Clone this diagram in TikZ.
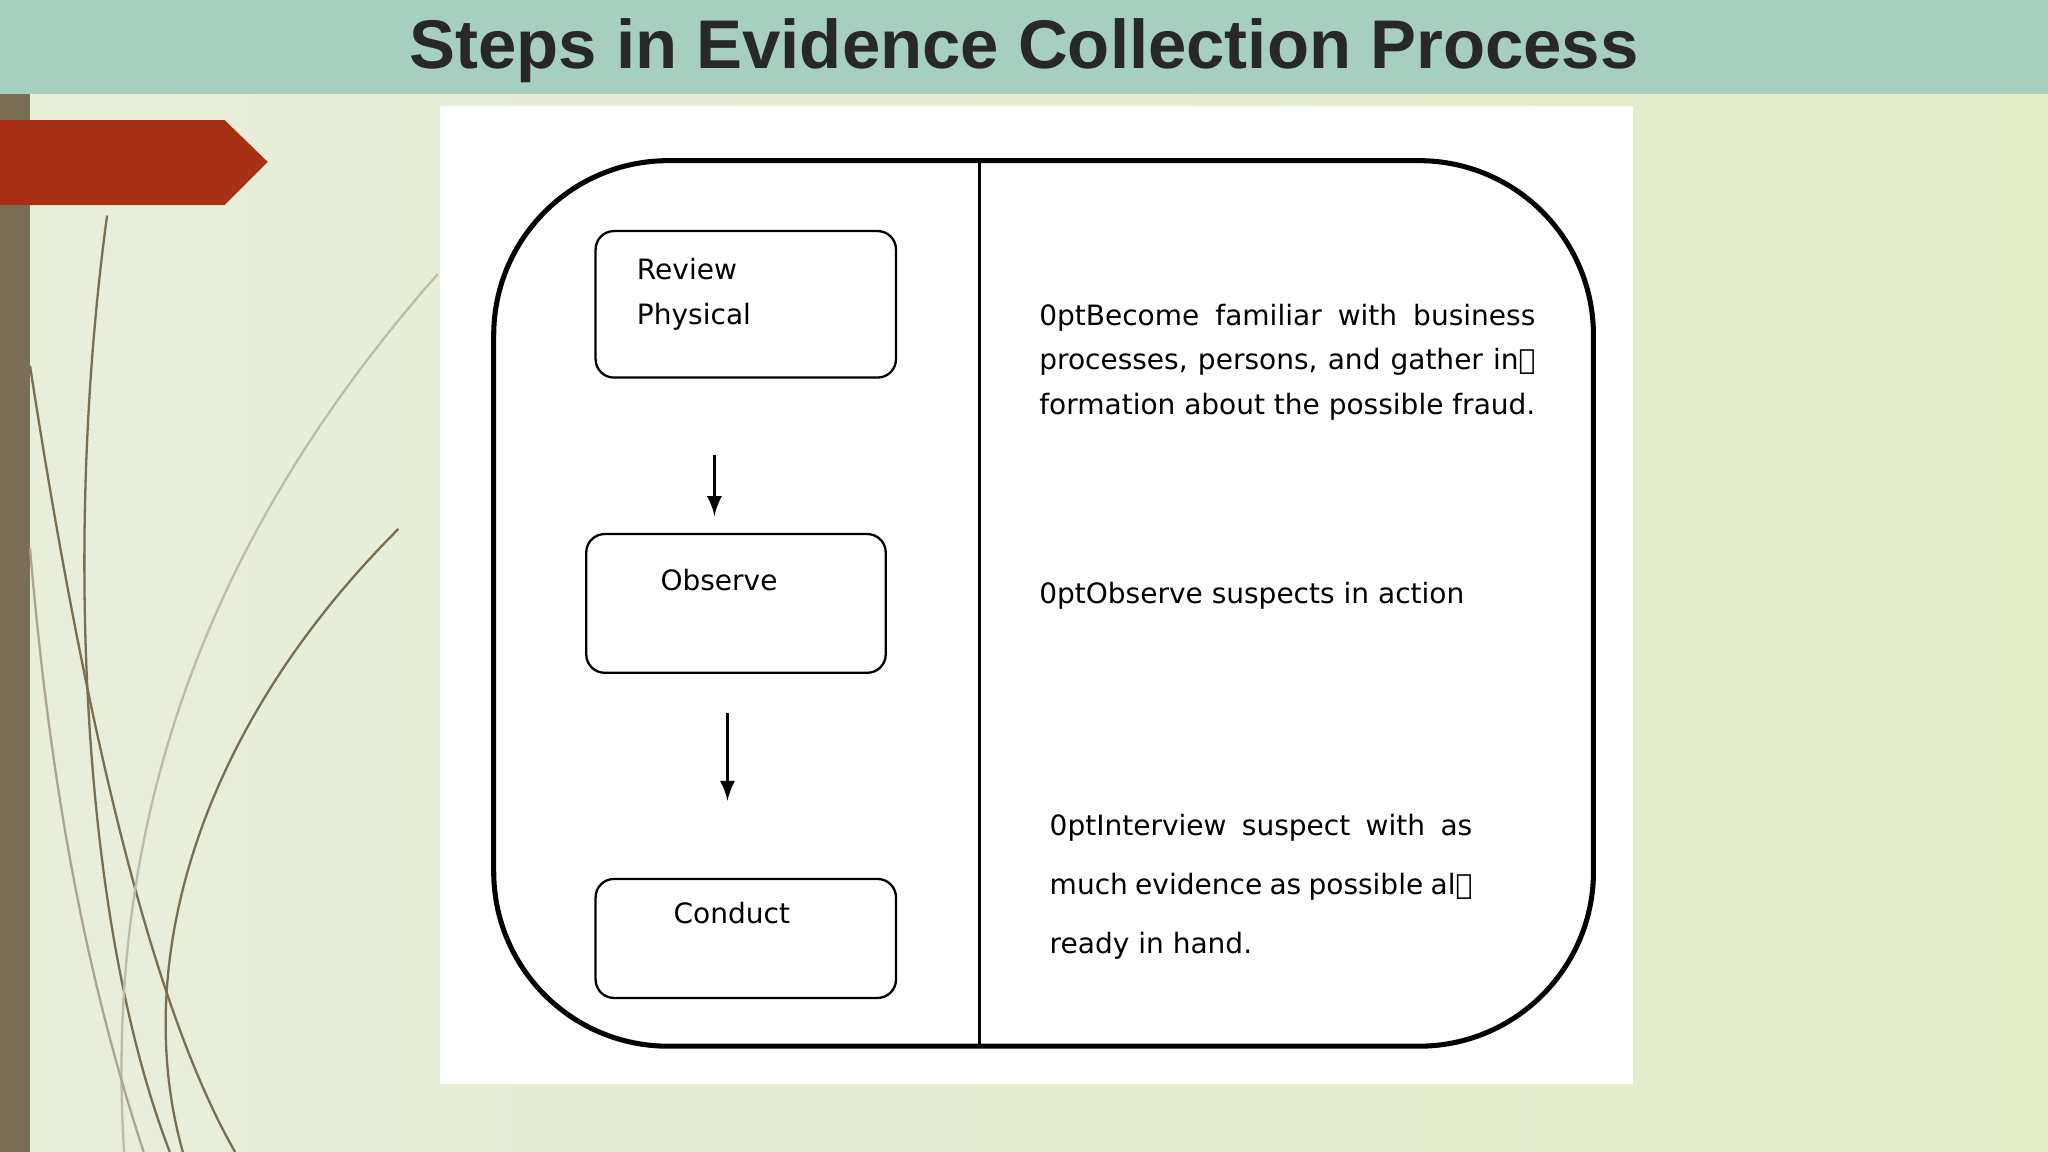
\documentclass[tikz,border=0pt]{standalone}
\usepackage{fontspec}
\setmainfont{DejaVu Sans}
\newfontfamily\titlefont{Liberation Sans}
\begin{document}
\begin{tikzpicture}[x=0.01cm,y=-0.01cm,
  box/.style={draw,line width=0.5pt,rounded corners=4pt,inner sep=0pt},
  arr/.style={-latex,line width=0.5pt},
  txt/.style={font=\fontsize{6.1}{9.7}\selectfont\hyphenchar\font=-1,align=justify,text width=108pt,inner sep=0pt,anchor=north west},
  lbl/.style={font=\fontsize{6.1}{9.7}\selectfont,anchor=north west,align=left,inner sep=0pt},
  deco/.style={line width=0.5pt}]
\useasboundingbox (0,0) rectangle (1568,882);
\shade[left color={rgb,255:red,232;green,238;blue,218}, right color={rgb,255:red,228;green,236;blue,200}] (0,0) rectangle (1568,882);
\fill[color={rgb,255:red,166;green,207;blue,192}] (0,0) rectangle (1568,72);
\node[font=\titlefont\fontsize{15}{16}\bfseries,text={rgb,255:red,40;green,40;blue,40}] (title) at (784,39) {Steps in Evidence Collection Process};
\fill[color={rgb,255:red,122;green,110;blue,85}] (0,72) rectangle (23,882);
\draw[deco,color={rgb,255:red,120;green,110;blue,80}] (82,165) .. controls (50,400) and (60,700) .. (130,882);
\draw[deco,color={rgb,255:red,120;green,110;blue,80}] (23,280) .. controls (60,520) and (110,760) .. (180,882);
\draw[deco,color={rgb,255:red,120;green,110;blue,80}] (305,405) .. controls (150,560) and (100,740) .. (140,882);
\draw[deco,color={rgb,255:red,185;green,190;blue,165}] (335,210) .. controls (150,420) and (80,640) .. (95,882);
\draw[deco,color={rgb,255:red,170;green,165;blue,140}] (23,420) .. controls (40,620) and (70,760) .. (110,882);
\fill[color={rgb,255:red,166;green,47;blue,20}] (0,92) -- (172,92) -- (205,124) -- (172,157) -- (0,157) -- cycle;
\fill[white] (337,81) rectangle (1250,830);
\draw[line width=1.1pt,rounded corners=38pt] (378,123) rectangle (1220,801);
\draw[line width=0.8pt] (750,123) -- (750,801);
\node[box,minimum width=65.4pt,minimum height=31.9pt] (b1) at (571,233) {};
\node[box,minimum width=65.2pt,minimum height=30.2pt] (b2) at (563.5,462) {};
\node[box,minimum width=65.4pt,minimum height=25.9pt] (b3) at (571,718.5) {};
\node[lbl] (t1) at (487,197) {Review\\Physical};
\node[lbl] (t2) at (505,435) {Observe};
\node[lbl] (t3) at (515,690) {Conduct};
\coordinate (a1s) at (547,348);\coordinate (a1e) at (547,395);
\coordinate (a2s) at (557,546);\coordinate (a2e) at (557,613);
\draw[arr] (a1s) -- (a1e);
\draw[arr] (a2s) -- (a2e);
\node[txt] (r1) at (795,232) {Become familiar with business processes, persons, and gather information about the possible fraud.};
\node[txt] (r2) at (795,445) {Observe suspects in action};
\node[txt,font=\fontsize{6.1}{12.8}\selectfont\hyphenchar\font=-1,text width=92pt] (r3) at (803,623) {Interview suspect with as much evidence as possible already in hand.};
\end{tikzpicture}
\end{document}
